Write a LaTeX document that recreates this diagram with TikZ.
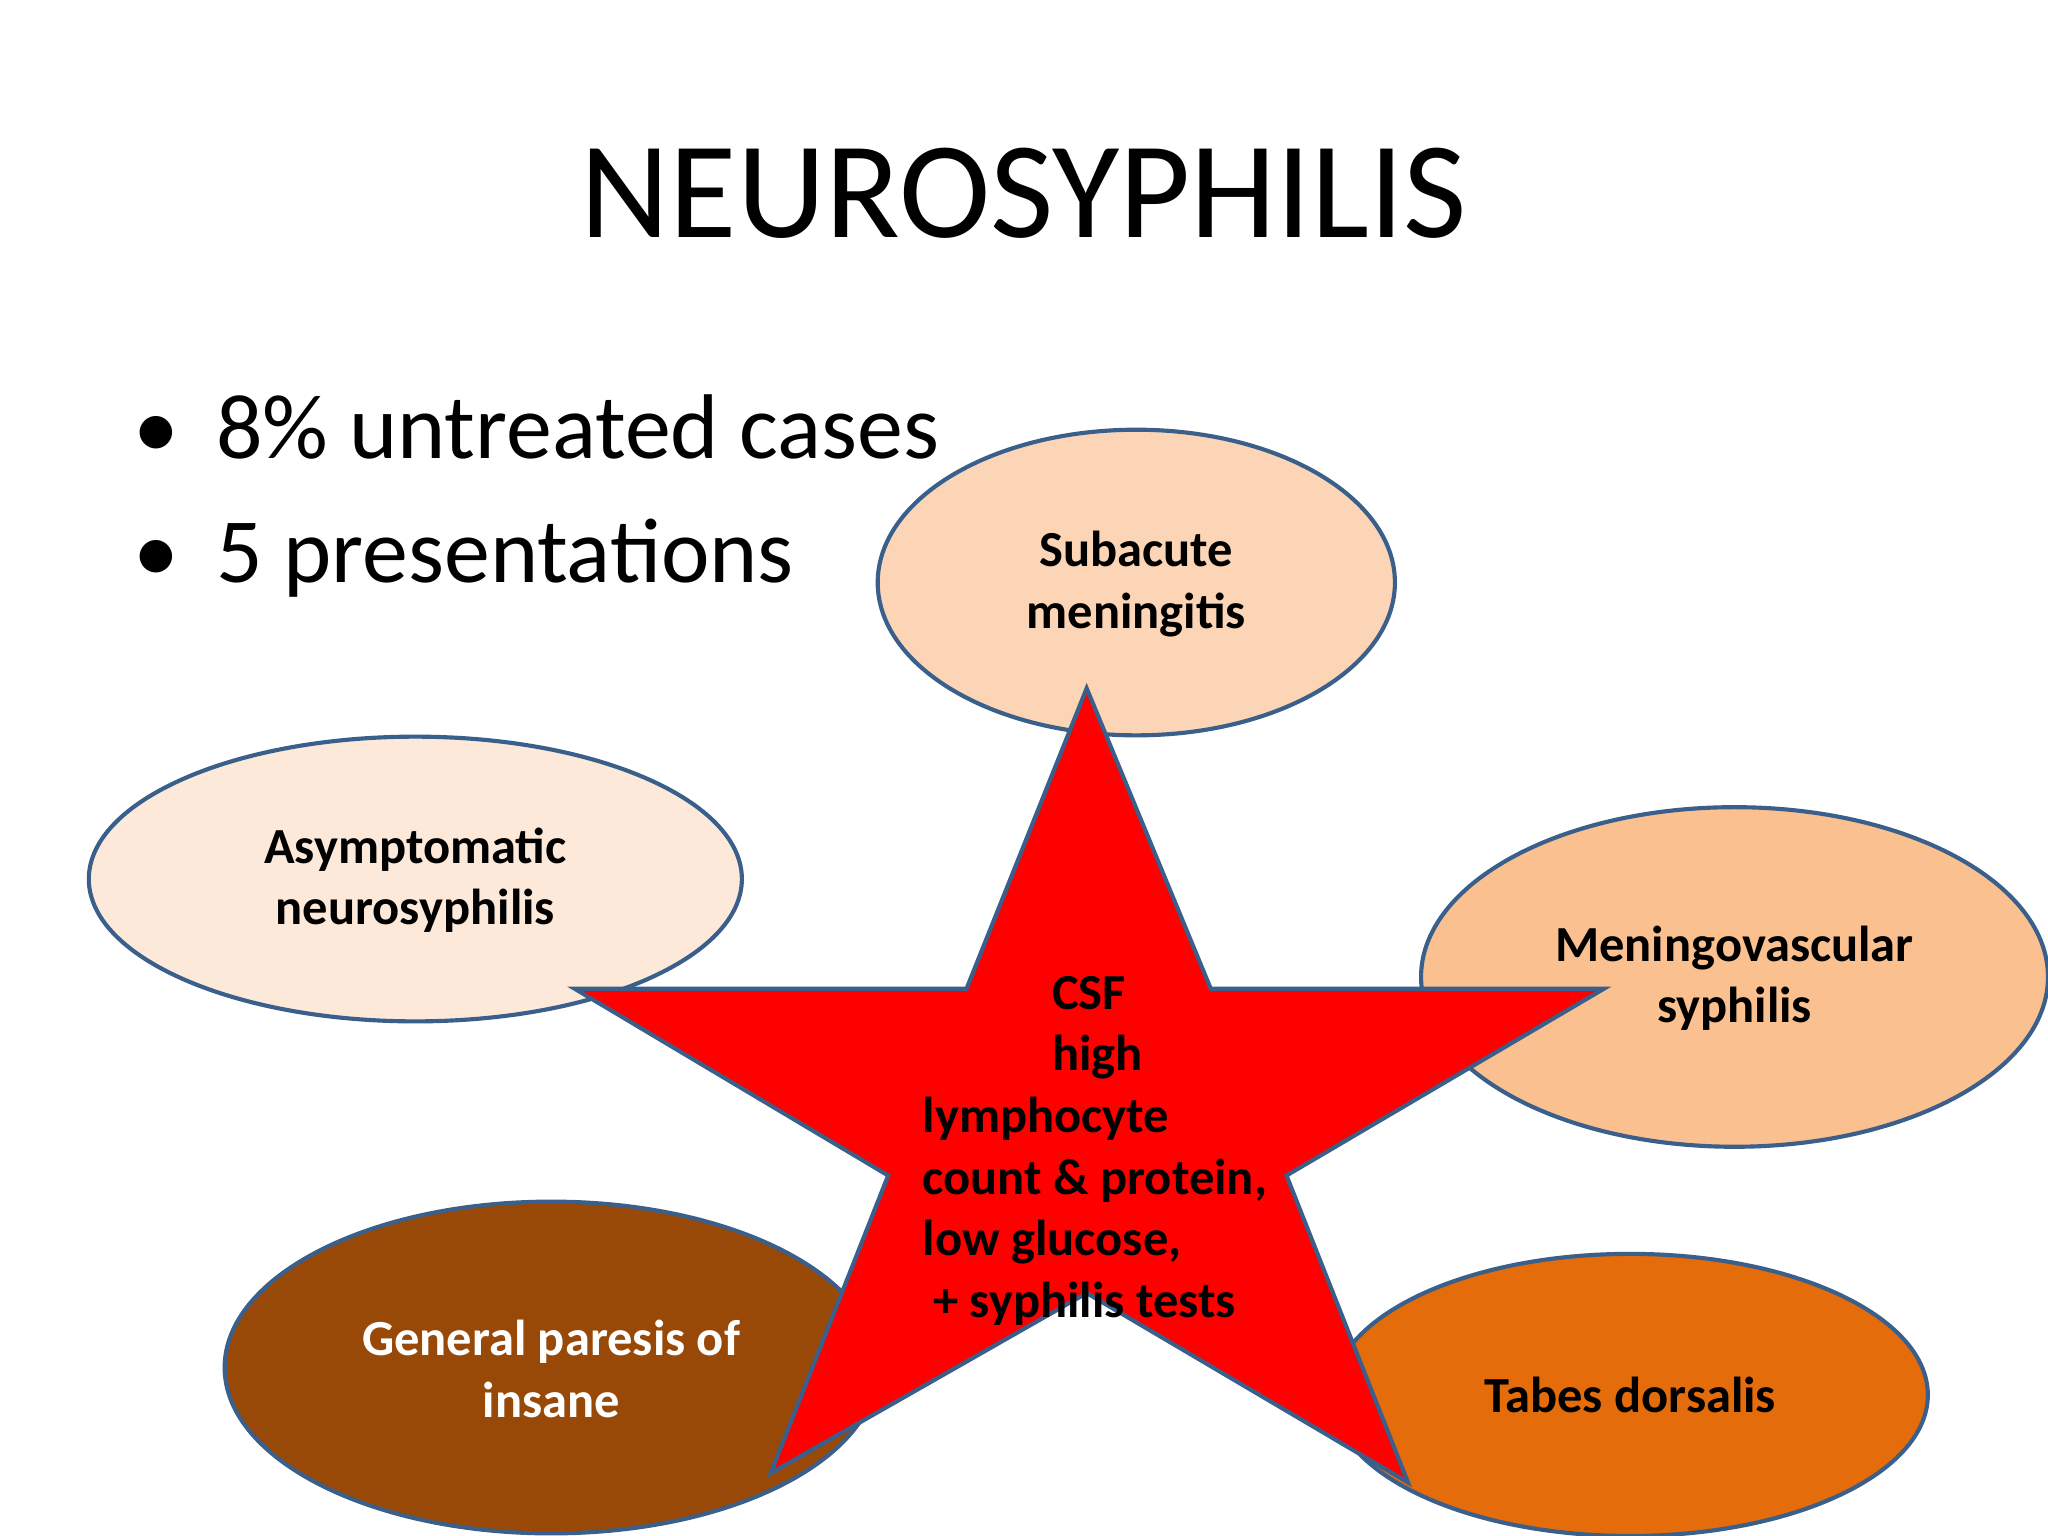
\documentclass[tikz,border=0pt]{standalone}
\usepackage{fontspec}
\setmainfont{Carlito}
\usetikzlibrary{shapes.geometric}
\definecolor{edge}{HTML}{3A5F8B}
\begin{document}
\begin{tikzpicture}[x=0.01cm,y=-0.01cm,
  ell/.style={draw=edge,line width=0.9pt},
  lab/.style={font=\fontsize{11}{13.4}\selectfont\bfseries,align=center}]
\useasboundingbox (0,0) rectangle (1568,1176);
\fill[white] (0,0) rectangle (1568,1176);
\node (title) at (784,148) {\fontsize{30}{36}\selectfont NEUROSYPHILIS};
\node[anchor=west] (b1) at (90,327) {\fontsize{20}{24}\selectfont \makebox[6.3mm][l]{•}8\% untreated cases};
\node[anchor=west] (b2) at (90,427) {\fontsize{20}{24}\selectfont \makebox[6.3mm][l]{•}5 presentations};
\filldraw[ell,fill={rgb,255:red,251;green,213;blue,181}] (870,446) ellipse [x radius=198,y radius=117];
\filldraw[ell,fill={rgb,255:red,253;green,233;blue,217}] (318,673) ellipse [x radius=250,y radius=109];
\filldraw[ell,fill={rgb,255:red,250;green,192;blue,144}] (1328,748) ellipse [x radius=240,y radius=130];
\filldraw[ell,fill={rgb,255:red,152;green,72;blue,7}] (422,1047) ellipse [x radius=250,y radius=127];
\filldraw[ell,fill={rgb,255:red,228;green,108;blue,10}] (1248,1068) ellipse [x radius=228,y radius=108];
\node[lab] (sub) at (870,447) {Subacute\\meningitis};
\node[lab] (asy) at (318,674) {Asymptomatic\\neurosyphilis};
\node[lab] (men) at (1328,749) {Meningovascular\\syphilis};
\node[lab,text=white] (gen) at (422,1048) {General paresis of\\insane};
\node[lab] (tab) at (1248,1068) {Tabes dorsalis};
\filldraw[draw=edge,line width=0.9pt,fill=red,line join=miter]
 (832,527) -- (927,757) -- (1228,757) -- (985,900) -- (1078,1135) -- (832,990)
 -- (590,1128) -- (680,900) -- (440,757) -- (740,757) -- cycle;
\node[lab,align=left,anchor=north west] (csf) at (694,735) {\hspace*{9.9mm}CSF\\\hspace*{9.9mm}high\\lymphocyte\\count \& protein,\\low glucose,\\\hspace*{0.8mm}+ syphilis tests};
\end{tikzpicture}
\end{document}
